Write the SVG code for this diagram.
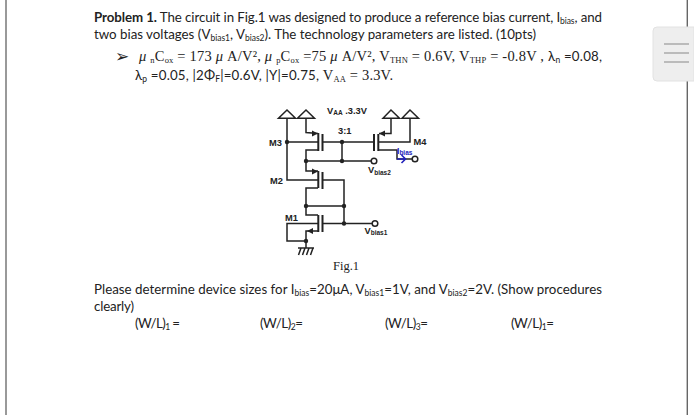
<svg xmlns="http://www.w3.org/2000/svg" width="694" height="415" viewBox="0 0 694 415">
<style>
.t{font-family:"Lato","Open Sans","Liberation Sans",sans-serif;font-size:13.300px;fill:#222}
.r{font-family:"Liberation Serif",serif;font-size:14.500px;fill:#222}
.c{font-family:"Liberation Sans",Arial,sans-serif;font-size:9.300px;font-weight:bold;fill:#222}
.u{font-size:6.500px}
.s{font-size:8.500px}
.l{font-family:"Lato",sans-serif}
.m{font-style:italic}
.w{fill:none;stroke:#222;stroke-width:1.500}
.b{fill:none;stroke:#222;stroke-width:2}
.d{fill:#222}
.o{fill:#fff;stroke:#222;stroke-width:1.500}
</style>
<rect width="694" height="415" fill="#fff"/>
<g id="page"><path d="M6 0V415" stroke="#999" fill="none" stroke-width="2"/>
<path d="M687.300 0V27M687.300 81V415" stroke="#666" fill="none" stroke-width="1.400"/>
<path d="M694 27H657a4 4 0 0 0-4 4V77a4 4 0 0 0 4 4H694Z" fill="#eeeeee" stroke="#e2e2e2"/>
<path d="M664 44H689M664 53H689M664 62H689" stroke="#aaa" stroke-width="1.300"/></g>
<g id="problem-text">
<text class="t" x="94" y="21.500" textLength="508"><tspan font-weight="bold">Problem 1.</tspan> The circuit in Fig.1 was designed to produce a reference bias current, I<tspan class="s" dy="2">bias</tspan><tspan dy="-2">, and</tspan></text>
<text class="t" x="94" y="39" textLength="442">two bias voltages (V<tspan class="s" dy="2">bias1</tspan><tspan dy="-2">, V</tspan><tspan class="s" dy="2">bias2</tspan><tspan dy="-2">). The technology parameters are listed. (10pts)</tspan></text>
<text x="115" y="62" font-family="DejaVu Sans" font-size="17" fill="#222">➢</text>
<text class="r" x="139" y="61" textLength="463"><tspan class="m">μ</tspan> <tspan class="s" dy="2">n</tspan><tspan dy="-2">C</tspan><tspan class="s" dy="2">ox</tspan><tspan dy="-2"> = 173 </tspan><tspan class="m">μ</tspan> A/V², <tspan class="m">μ</tspan> <tspan class="s" dy="2">p</tspan><tspan dy="-2">C</tspan><tspan class="s" dy="2">ox</tspan><tspan dy="-2"> =75 </tspan><tspan class="m">μ</tspan> A/V², V<tspan class="s" dy="2">THN</tspan><tspan dy="-2"> = 0.6V, V</tspan><tspan class="s" dy="2">THP</tspan><tspan dy="-2"> = -0.8V , </tspan><tspan class="l" style="font-size:13.300px">λ</tspan><tspan class="s l" dy="2">n</tspan><tspan class="l" style="font-size:13.300px" dy="-2"> =0.08,</tspan></text>
<text class="t" x="135" y="80" textLength="258">λ<tspan class="s" dy="2">p</tspan><tspan dy="-2"> =0.05, |2Φ</tspan><tspan class="s" dy="2">F</tspan><tspan dy="-2">|=0.6V, |Υ|=0.75, </tspan><tspan font-family="Liberation Serif" style="font-size:14.500px">V</tspan><tspan class="s" dy="2" font-family="Liberation Serif">AA</tspan><tspan dy="-2" font-family="Liberation Serif" style="font-size:14.500px"> = 3.3V.</tspan></text>
<text class="r" x="333" y="269.500" style="font-size:12.500px">Fig.1</text>
<text class="t" x="94" y="293.500" textLength="508">Please determine device sizes for I<tspan class="s" dy="2">bias</tspan><tspan dy="-2">=20μA, V</tspan><tspan class="s" dy="2">bias1</tspan><tspan dy="-2">=1V, and V</tspan><tspan class="s" dy="2">bias2</tspan><tspan dy="-2">=2V. (Show procedures</tspan></text>
<text class="t" x="94" y="310.500" textLength="40">clearly)</text>
<text class="t" x="135" y="327.500" textLength="45">(W/L)<tspan class="s" dy="2">1</tspan><tspan dy="-2"> =</tspan></text>
<text class="t" x="260" y="327.500" textLength="43">(W/L)<tspan class="s" dy="2">2</tspan><tspan dy="-2">=</tspan></text>
<text class="t" x="385" y="327.500" textLength="43">(W/L)<tspan class="s" dy="2">3</tspan><tspan dy="-2">=</tspan></text>
<text class="t" x="511" y="327.500" textLength="43">(W/L)<tspan class="s" dy="2">1</tspan><tspan dy="-2">=</tspan></text>
</g>
<g id="connectors">
<path class="w" d="M287 118V180H318M287 142H318M306 118V132.500L318 133.500"/>
<path class="w" d="M322 142H373M318 150H306V161H371M342 142V161M306 161V171H318"/>
<path class="w" d="M322 180H344V223.500M318 188H306V206H344M306 206V215H318M322 223.500H372"/>
<path class="w" d="M318 231H306V248M306 241H287V223.500H318"/>
<path class="w" d="M379 133.500H391V118M378 142H410V118M378 150H397V159H412"/>
<path fill="none" stroke="#2222bb" stroke-width="1.600" d="M397 159H405M401.500 155L405.500 159L401.500 163"/>
<path class="d" d="M318 133.500L312 130.500V136.500ZM318 171.500L312 168.500V174.500ZM307 231L313 228V234ZM379 133.500L385 130.500V136.500Z"/>
</g>
<g id="M3"><path class="b" d="M318.300 133V151M322.500 134V151"/><text class="c" x="269" y="145.500">M3</text></g>
<g id="M2"><path class="b" d="M318.300 171V188M322.500 172V189"/><text class="c" x="270" y="183.500">M2</text></g>
<g id="M1"><path class="b" d="M318.300 215V232M322.500 215V232"/><text class="c" x="285" y="221">M1</text></g>
<g id="M4"><path class="b" d="M374 134V151M378.300 134V151"/><text class="c" x="413.500" y="144.500">M4</text></g>
<g id="rails">
<path class="o" d="M287 110L278.500 118.300H295.500Z"/><path class="o" d="M306 110L297.500 118.300H314.500Z"/>
<path class="o" d="M391 110L383 118.300H399.500Z"/><path class="o" d="M410 110L402 118.300H418.500Z"/>
<text class="c" x="327" y="113.500">V<tspan class="u" dy="1.500">AA</tspan><tspan dy="-1.500"> .3.3V</tspan></text>
<text class="c" x="338" y="134">3:1</text>
</g>
<g id="junctions">
<circle class="d" cx="287" cy="142" r="2.200"/><circle class="d" cx="306" cy="161" r="2.200"/><circle class="d" cx="342" cy="142" r="2.200"/><circle class="d" cx="342" cy="161" r="2.200"/><circle class="d" cx="306" cy="206" r="2.200"/><circle class="d" cx="344" cy="206" r="2.200"/><circle class="d" cx="344" cy="223.500" r="2.200"/><circle class="d" cx="306" cy="241" r="2.200"/>
</g>
<g id="Vbias2"><circle class="o" cx="374" cy="161" r="2.800"/><text class="c" x="368" y="173">V<tspan class="u" dy="1.500">bias2</tspan></text></g>
<g id="Vbias1"><circle class="o" cx="375" cy="223.500" r="2.800"/><text class="c" x="364.500" y="233.500">V<tspan class="u" dy="1.500">bias1</tspan></text></g>
<g id="Ibias"><circle class="o" cx="415" cy="159" r="2.800"/><text x="397" y="153.500" font-family="Liberation Sans" font-size="8.500" font-weight="bold" fill="#2222bb">I<tspan font-size="6.500" dy="1">bias</tspan></text></g>
<g id="ground"><path class="w" d="M298 248H314M301 248L298.500 255M305 248L302.500 255M309 248L306.500 255M313 248L310.500 255"/></g>
</svg>
